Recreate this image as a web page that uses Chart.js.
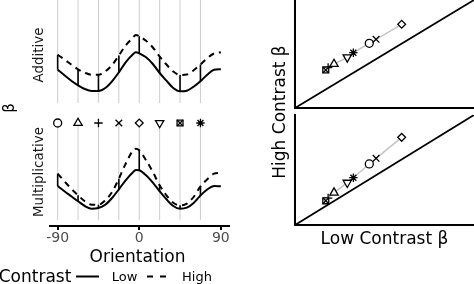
<!DOCTYPE html>
<html>
<head>
<meta charset="utf-8">
<script src="https://cdn.jsdelivr.net/npm/chart.js@4.4.1/dist/chart.umd.min.js"></script>
<style>
  html, body { margin: 0; padding: 0; background: #fff; }
  body { width: 474px; height: 284px; position: relative; overflow: hidden; font-family: "DejaVu Sans", sans-serif; color: #000; }
  canvas { position: absolute; }
  .lbl { position: absolute; line-height: 1; white-space: nowrap; transform: translate(-50%, -50%); }
  .rot { transform: translate(-50%, -50%) rotate(-90deg); }
</style>
</head>
<body>
<canvas id="addChart" width="210" height="110" style="left:29px;top:0px"></canvas>
<canvas id="mulChart" width="210" height="141" style="left:29px;top:106px"></canvas>
<canvas id="addScatter" width="189" height="118" style="left:285px;top:0px"></canvas>
<canvas id="mulScatter" width="189" height="130" style="left:285px;top:105px"></canvas>

<div class="lbl rot" style="left:9px;top:108px;font-size:15px">β</div>
<div class="lbl rot" style="left:38.5px;top:55px;font-size:13.5px;color:#1a1a1a">Additive</div>
<div class="lbl rot" style="left:38.5px;top:172px;font-size:13.5px;color:#1a1a1a">Multiplicative</div>
<div class="lbl" style="left:137.5px;top:256px;font-size:17px">Orientation</div>
<div class="lbl rot" style="left:279px;top:112px;font-size:17px">High Contrast β</div>
<div class="lbl" style="left:384.5px;top:237.6px;font-size:17px">Low Contrast β</div>

<div class="lbl" style="left:35px;top:276px;font-size:17px">Contrast</div>
<svg style="position:absolute;left:0;top:0" width="474" height="284">
  <line x1="76" y1="276.5" x2="99" y2="276.5" stroke="#000" stroke-width="2"/>
  <line x1="147" y1="276.5" x2="167" y2="276.5" stroke="#000" stroke-width="2" stroke-dasharray="6 7"/>
</svg>
<div class="lbl" style="left:124.5px;top:275.5px;font-size:13px">Low</div>
<div class="lbl" style="left:197px;top:275.5px;font-size:13px">High</div>

<script>
// tuning curves, beta vs orientation (deg)
const orientations = [-90, -82.5, -75, -67.5, -60, -52.5, -45, -37.5, -30, -22.5, -15, -7.5, -3.75, 0, 7.5, 15, 22.5, 30, 37.5, 45, 52.5, 60, 67.5, 75, 82.5, 90];
const addLow = [3.33, 2.77, 2.23, 1.77, 1.40, 1.20, 1.20, 1.50, 2.17, 3.07, 4.07, 4.83, 5.08, 4.97, 4.57, 3.90, 3.00, 2.23, 1.50, 1.17, 1.23, 1.63, 2.17, 2.83, 3.32, 3.38];
const addHigh = [4.83, 4.35, 3.85, 3.37, 3.02, 2.83, 2.83, 3.15, 3.80, 4.75, 5.75, 6.48, 6.80, 6.68, 6.22, 5.55, 4.65, 3.85, 3.15, 2.80, 2.85, 3.28, 3.85, 4.48, 4.95, 5.08];
const mulLow = [3.40, 2.87, 2.37, 1.87, 1.40, 1.13, 1.20, 1.53, 2.20, 3.07, 3.97, 4.73, 5.00, 4.97, 4.47, 3.73, 2.87, 2.07, 1.40, 1.13, 1.23, 1.70, 2.45, 3.05, 3.40, 3.37];
const mulHigh = [4.63, 3.87, 3.13, 2.47, 1.87, 1.53, 1.53, 1.97, 2.80, 4.13, 5.63, 6.87, 7.13, 6.97, 5.97, 4.80, 3.47, 2.47, 1.73, 1.47, 1.63, 2.30, 3.35, 4.07, 4.63, 4.73];

// probe orientations and the low/high contrast betas at them
const probeOrientations = [-90, -67.5, -45, -22.5, 0, 22.5, 45, 67.5];
const addScatterLow = [4.15, 2.18, 1.85, 4.53, 5.96, 2.92, 1.72, 3.26];
const addScatterHigh = [5.99, 4.07, 3.75, 6.36, 7.75, 4.69, 3.52, 5.12];
const mulScatterLow = [4.15, 2.18, 1.85, 4.53, 5.96, 2.92, 1.72, 3.26];
const mulScatterHigh = [5.55, 2.94, 2.45, 6.06, 7.97, 3.85, 2.20, 4.30];
const identityLine = [0, 10];
const xTicks = [-90, 0, 90];
const markerLevel = 9.7;

// marker look per probe orientation
const markerStyle = ['circle', 'triangle', 'cross', 'crossRot', 'rectRot', 'triangle', 'rect', 'star'];
const markerRotation = [0, 0, 0, 0, 0, 180, 0, 0];
const markerRadius = [4, 4.8, 4.2, 4.7, 3.9, 4.8, 4.2, 4.2];
const boxIdx = markerStyle.indexOf('rect');

const FONT = 'DejaVu Sans';

function curve(ys, dash) {
    return {
        data: orientations.map((x, i) => ({ x, y: ys[i] })),
        borderColor: '#000', borderWidth: 2, borderDash: dash || [],
        pointRadius: 0, cubicInterpolationMode: 'monotone', order: 2
    };
}

function segments(pairs, color, width, order) {
    const data = [];
    pairs.forEach(p => {
        data.push({ x: p[0], y: p[1] }, { x: p[0], y: p[2] }, { x: p[0], y: null });
    });
    return { data, borderColor: color, borderWidth: width, pointRadius: 0, tension: 0, spanGaps: false, order };
}

function markers(pts, order) {
    return [{
        data: pts, showLine: false, pointStyle: markerStyle, pointRotation: markerRotation,
        pointRadius: markerRadius, borderColor: '#000', pointBackgroundColor: '#fff',
        pointBorderWidth: 1.3, order
    }, {
        data: [pts[boxIdx]], showLine: false, pointStyle: 'crossRot',
        pointRadius: markerRadius[boxIdx], borderColor: '#000', pointBorderWidth: 1.3, order: order - 1
    }];
}

function leftChart(id, low, high, yMin, yMax, pad, grayTop, withAxis) {
    const gray = segments(probeOrientations.map(o => [o, 0, grayTop]), '#cccccc', 1, 5);
    const diffs = segments(probeOrientations.map(o => {
        const i = orientations.indexOf(o);
        return [o, low[i], high[i]];
    }), '#000', 1.6, 3);
    const datasets = [gray, diffs, curve(low), curve(high, [6, 5])];
    if (withAxis) {
        markers(probeOrientations.map(o => ({ x: o, y: markerLevel })), 0).forEach(d => datasets.push(d));
    }
    const xAxis = {
        type: 'linear', min: -99, max: 99, display: withAxis,
        afterBuildTicks: s => { s.ticks = xTicks.map(v => ({ value: v })); },
        grid: { display: true, drawOnChartArea: false, drawTicks: true, tickLength: 4, color: '#000', lineWidth: 2 },
        border: { display: true, color: '#000', width: 2 },
        ticks: { padding: 0, color: '#4d4d4d', font: { family: FONT, size: 14 }, maxRotation: 0, autoSkip: false }
    };
    if (withAxis) xAxis.afterFit = s => { s.height = 21; };
    return new Chart(document.getElementById(id), {
        type: 'line',
        data: { datasets },
        options: {
            responsive: false, animation: false, events: [],
            layout: { padding: pad, autoPadding: false },
            plugins: { legend: { display: false }, tooltip: { enabled: false } },
            scales: {
                x: xAxis,
                y: { type: 'linear', min: yMin, max: yMax, display: false }
            }
        }
    });
}

function rightChart(id, lowB, highB, pad) {
    const pts = lowB.map((x, i) => ({ x, y: highB[i] }));
    const sorted = [...pts].sort((a, b) => a.x - b.x);
    const datasets = markers(pts, 0);
    datasets.push({ data: sorted, borderColor: '#c4c4c4', borderWidth: 1.5, pointRadius: 0, tension: 0, order: 3 });
    datasets.push({ data: identityLine.map(v => ({ x: v, y: v })), borderColor: '#000', borderWidth: 1.8, pointRadius: 0, tension: 0, order: 4 });
    const axis = {
        type: 'linear', min: 0, max: 10,
        grid: { display: false, drawTicks: false, tickLength: 0 },
        ticks: { display: false },
        border: { display: true, color: '#000', width: 2 }
    };
    return new Chart(document.getElementById(id), {
        type: 'line',
        data: { datasets },
        options: {
            responsive: false, animation: false, events: [],
            layout: { padding: pad, autoPadding: false },
            plugins: { legend: { display: false }, tooltip: { enabled: false } },
            scales: { x: { ...axis }, y: { ...axis } }
        }
    });
}

leftChart('addChart', addLow, addHigh, 0, 10.3, { left: 20.5, right: 10, top: 0, bottom: 7 }, 10.3, false);
leftChart('mulChart', mulLow, mulHigh, -0.6, 10.4, { left: 20.5, right: 10, top: 10, bottom: 0 }, markerLevel, true);
rightChart('addScatter', addScatterLow, addScatterHigh, { left: 10, right: 0, top: 0, bottom: 10 });
rightChart('mulScatter', mulScatterLow, mulScatterHigh, { left: 10, right: 0, top: 10, bottom: 10 });
</script>
</body>
</html>
